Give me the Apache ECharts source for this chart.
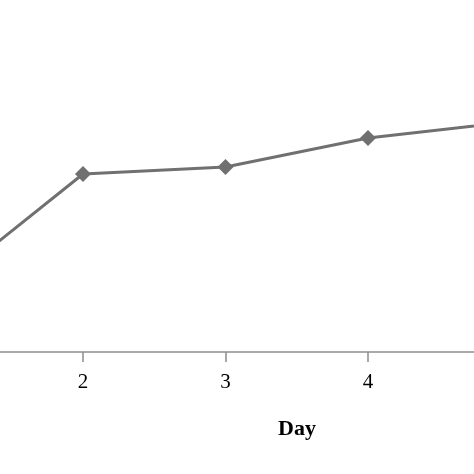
<!DOCTYPE html>
<html><head><meta charset="utf-8">
<script src="https://cdn.jsdelivr.net/npm/echarts@6/dist/echarts.min.js"></script>
<style>html,body{margin:0;padding:0;background:#fff}#c{width:474px;height:474px}</style>
</head><body><div id="c"></div>
<script>
var days = [1, 2, 3, 4, 5];
var values = [64, 178, 185, 214, 230];
var tickDays = [2, 3, 4];

var chart = echarts.init(document.getElementById('c'));
chart.setOption({
    animation: false,
    grid: { left: 0, right: 0, top: 0, bottom: 122 },
    xAxis: {
        type: 'value',
        min: 1.4175,
        max: 4.744,
        name: 'Day',
        nameLocation: 'middle',
        nameGap: 66,
        nameTextStyle: { fontFamily: 'Liberation Serif', fontWeight: 'bold', fontSize: 22, color: '#000', padding: [0, 0, 0, 120] },
        splitLine: { show: false },
        axisLine: { lineStyle: { color: '#8c8c8c', width: 1.5 } },
        axisTick: { customValues: tickDays, length: 10, lineStyle: { color: '#8c8c8c', width: 1.5 } },
        axisLabel: { customValues: tickDays, fontFamily: 'Liberation Serif', fontSize: 21, color: '#000', margin: 20 }
    },
    yAxis: { type: 'value', min: 0, max: 352, show: false, splitLine: { show: false } },
    series: [{
        type: 'line',
        data: days.map(function (d, i) { return [d, values[i]]; }),
        symbol: 'diamond',
        symbolSize: 16,
        lineStyle: { color: '#707070', width: 3 },
        itemStyle: { color: '#707070' }
    }]
});
</script></body></html>
